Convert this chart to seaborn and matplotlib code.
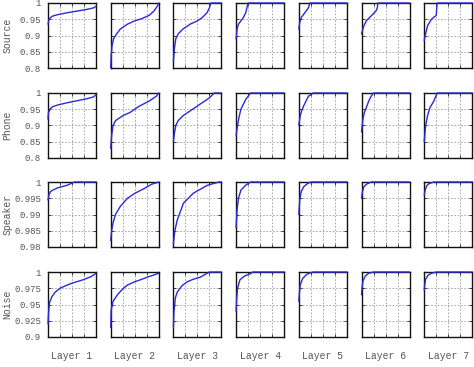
import numpy as np
import pandas as pd
import matplotlib
matplotlib.use("Agg")
import matplotlib.pyplot as plt
import seaborn as sns

layers = ["Layer 1", "Layer 2", "Layer 3", "Layer 4", "Layer 5", "Layer 6", "Layer 7"]
rows = ["Source", "Phone", "Speaker", "Noise"]

# y-axis settings per row
row_ylim = [(0.8, 1.0), (0.8, 1.0), (0.98, 1.0), (0.9, 1.0)]
row_yticks = [[0.8, 0.85, 0.9, 0.95, 1.0], [0.8, 0.85, 0.9, 0.95, 1.0],
              [0.98, 0.985, 0.99, 0.995, 1.0], [0.9, 0.925, 0.95, 0.975, 1.0]]
row_yticklabels = [["0.8", "0.85", "0.9", "0.95", "1"], ["0.8", "0.85", "0.9", "0.95", "1"],
                   ["0.98", "0.985", "0.99", "0.995", "1"], ["0.9", "0.925", "0.95", "0.975", "1"]]

# --- Source row ---
source_x = [
    [0, 0.02, 0.05, 0.1, 0.2, 0.4, 0.6, 0.8, 0.95, 1.0],
    [0, 0.01, 0.03, 0.06, 0.1, 0.2, 0.35, 0.5, 0.65, 0.8, 0.9, 0.97, 1.0],
    [0, 0.02, 0.05, 0.1, 0.2, 0.35, 0.5, 0.6, 0.7, 0.75, 0.78, 1.0],
    [0, 0.02, 0.05, 0.1, 0.15, 0.2, 0.25, 1.0],
    [0, 0.02, 0.05, 0.1, 0.15, 0.2, 0.23, 1.0],
    [0, 0.05, 0.1, 0.2, 0.3, 0.33, 0.34, 1.0],
    [0, 0.02, 0.07, 0.15, 0.25, 0.27, 1.0],
]
source_y = [
    [0.935, 0.948, 0.955, 0.96, 0.964, 0.97, 0.975, 0.98, 0.985, 0.99],
    [0.80, 0.84, 0.87, 0.89, 0.90, 0.92, 0.935, 0.945, 0.952, 0.962, 0.975, 0.99, 1.0],
    [0.82, 0.86, 0.89, 0.905, 0.92, 0.935, 0.945, 0.955, 0.97, 0.985, 1.0, 1.0],
    [0.89, 0.92, 0.935, 0.945, 0.955, 0.97, 1.0, 1.0],
    [0.92, 0.94, 0.955, 0.965, 0.975, 0.985, 1.0, 1.0],
    [0.905, 0.93, 0.945, 0.96, 0.975, 0.985, 1.0, 1.0],
    [0.885, 0.9, 0.93, 0.95, 0.962, 1.0, 1.0],
]

# --- Phone row ---
phone_x = [
    [0, 0.01, 0.05, 0.1, 0.2, 0.4, 0.6, 0.8, 0.95, 1.0],
    [0, 0.02, 0.05, 0.1, 0.25, 0.4, 0.6, 0.8, 0.95, 1.0],
    [0, 0.02, 0.05, 0.1, 0.2, 0.3, 0.45, 0.6, 0.75, 0.85, 1.0],
    [0, 0.03, 0.06, 0.1, 0.15, 0.2, 0.3, 1.0],
    [0, 0.03, 0.06, 0.1, 0.15, 0.2, 0.3, 1.0],
    [0, 0.03, 0.06, 0.1, 0.15, 0.2, 0.25, 1.0],
    [0, 0.03, 0.07, 0.12, 0.2, 0.27, 1.0],
]
phone_y = [
    [0.92, 0.94, 0.952, 0.958, 0.963, 0.97, 0.976, 0.982, 0.988, 0.995],
    [0.83, 0.87, 0.9, 0.915, 0.93, 0.94, 0.96, 0.975, 0.99, 1.0],
    [0.85, 0.875, 0.9, 0.915, 0.93, 0.94, 0.955, 0.97, 0.985, 1.0, 1.0],
    [0.87, 0.9, 0.925, 0.95, 0.965, 0.98, 1.0, 1.0],
    [0.9, 0.93, 0.945, 0.96, 0.975, 0.99, 1.0, 1.0],
    [0.88, 0.92, 0.94, 0.955, 0.975, 0.99, 1.0, 1.0],
    [0.85, 0.9, 0.93, 0.955, 0.975, 1.0, 1.0],
]

# --- Speaker row ---
speaker_x = [
    [0, 0.02, 0.05, 0.1, 0.2, 0.4, 0.55, 1.0],
    [0, 0.02, 0.05, 0.1, 0.2, 0.35, 0.5, 0.7, 0.85, 1.0],
    [0, 0.03, 0.08, 0.21, 0.42, 0.71, 0.95, 1.0],
    [0, 0.02, 0.05, 0.1, 0.2, 0.3, 1.0],
    [0, 0.02, 0.05, 0.1, 0.18, 0.25, 1.0],
    [0, 0.02, 0.05, 0.1, 0.2, 1.0],
    [0, 0.02, 0.05, 0.1, 0.2, 1.0],
]
speaker_y = [
    [0.9945, 0.996, 0.997, 0.9975, 0.9982, 0.999, 1.0, 1.0],
    [0.982, 0.985, 0.9875, 0.99, 0.9925, 0.995, 0.9965, 0.998, 0.9993, 1.0],
    [0.981, 0.985, 0.9883, 0.9935, 0.9966, 0.999, 1.0, 1.0],
    [0.986, 0.9915, 0.995, 0.9975, 0.999, 1.0, 1.0],
    [0.99, 0.9945, 0.997, 0.9985, 0.9995, 1.0, 1.0],
    [0.995, 0.997, 0.9985, 0.9993, 1.0, 1.0],
    [0.996, 0.9975, 0.9988, 0.9995, 1.0, 1.0],
]

# --- Noise row ---
noise_x = [
    [0, 0.01, 0.03, 0.08, 0.15, 0.25, 0.4, 0.55, 0.73, 0.9, 1.0],
    [0, 0.01, 0.05, 0.14, 0.25, 0.35, 0.5, 0.62, 0.8, 1.0],
    [0, 0.01, 0.04, 0.08, 0.18, 0.29, 0.42, 0.56, 0.7, 0.75, 1.0],
    [0, 0.01, 0.03, 0.08, 0.18, 0.29, 0.35, 1.0],
    [0, 0.01, 0.03, 0.08, 0.16, 0.25, 0.3, 1.0],
    [0, 0.01, 0.03, 0.08, 0.15, 0.25, 1.0],
    [0, 0.01, 0.03, 0.08, 0.15, 0.25, 1.0],
]
noise_y = [
    [0.92, 0.935, 0.952, 0.962, 0.969, 0.975, 0.98, 0.984, 0.988, 0.993, 0.998],
    [0.915, 0.9415, 0.955, 0.965, 0.974, 0.98, 0.985, 0.988, 0.993, 0.998],
    [0.915, 0.937, 0.96, 0.969, 0.979, 0.985, 0.989, 0.992, 0.998, 1.0, 1.0],
    [0.94, 0.957, 0.975, 0.988, 0.994, 0.997, 1.0, 1.0],
    [0.955, 0.965, 0.98, 0.99, 0.996, 0.999, 1.0, 1.0],
    [0.965, 0.975, 0.986, 0.994, 0.998, 1.0, 1.0],
    [0.972, 0.98, 0.989, 0.995, 0.998, 1.0, 1.0],
]

row_x = [source_x, phone_x, speaker_x, noise_x]
row_y = [source_y, phone_y, speaker_y, noise_y]

sns.set_theme(style="white")
plt.rcParams['font.family'] = ['Liberation Mono', 'DejaVu Sans Mono']

W, H = 474, 367
fig = plt.figure(figsize=(W / 100, H / 100), dpi=100)

col_left0, col_step, pw = 48, 62.7, 48
row_tops = [3, 93, 182, 272]
ph = 65
text_color = "#555555"
line_color = "#2a2ad8"

for r in range(4):
    for c in range(7):
        left = (col_left0 + c * col_step) / W
        bottom = 1 - (row_tops[r] + ph) / H
        ax = fig.add_axes([left, bottom, pw / W, ph / H])
        df = pd.DataFrame({"x": row_x[r][c], "y": row_y[r][c]})
        sns.lineplot(data=df, x="x", y="y", ax=ax, color=line_color, lw=1.0,
                     estimator=None, sort=False, zorder=3, clip_on=False)
        ax.set_xlim(0, 1)
        ax.set_ylim(*row_ylim[r])
        ax.set_xticks([0.25, 0.5, 0.75])
        ax.set_yticks(row_yticks[r])
        ax.grid(True, color="#9a9a9a", linestyle=(0, (2, 2)), linewidth=0.6)
        ax.set_xlabel("")
        ax.set_ylabel("")
        ax.tick_params(axis="both", direction="in", length=2, width=0.6,
                       colors="#222222", labelcolor=text_color, labelsize=6.5,
                       left=True, right=True, top=True, bottom=True, pad=5)
        ax.set_xticklabels([])
        if c == 0:
            ax.set_yticklabels(row_yticklabels[r])
            ax.set_ylabel(rows[r], fontsize=7, color=text_color)
            ax.yaxis.set_label_coords(-0.74, 0.5)
        else:
            ax.set_yticklabels([])
        for s in ax.spines.values():
            s.set_color("#111111")
            s.set_linewidth(1.0)
        if r == 3:
            ax.set_xlabel(layers[c], fontsize=7, color=text_color)
            ax.xaxis.set_label_coords(0.5, -0.22)
            ax.xaxis.label.set_verticalalignment("top")

fig.savefig("out.png", dpi=100)
